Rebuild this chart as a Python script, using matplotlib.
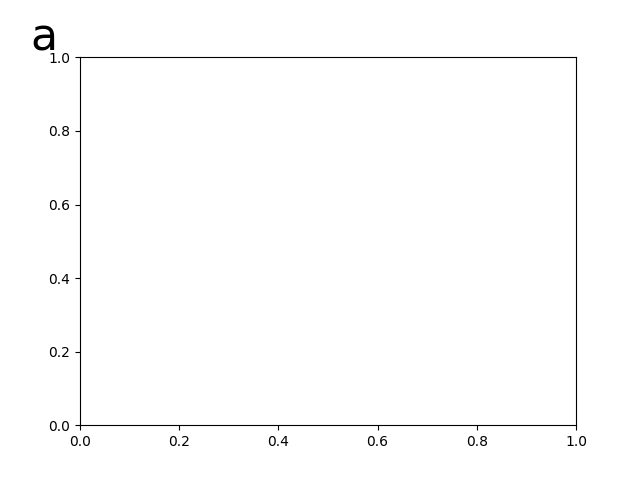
import matplotlib
matplotlib.use("Agg")
import matplotlib.pyplot as plt

PANEL_LABEL = "a"

fig, ax = plt.subplots(figsize=(6.4, 4.78), dpi=100)
ax.text(-0.1, 1.0 + 7 / 368, PANEL_LABEL, transform=ax.transAxes,
        fontsize=32, va="baseline", ha="left")
fig.savefig("out.png", dpi=100)
